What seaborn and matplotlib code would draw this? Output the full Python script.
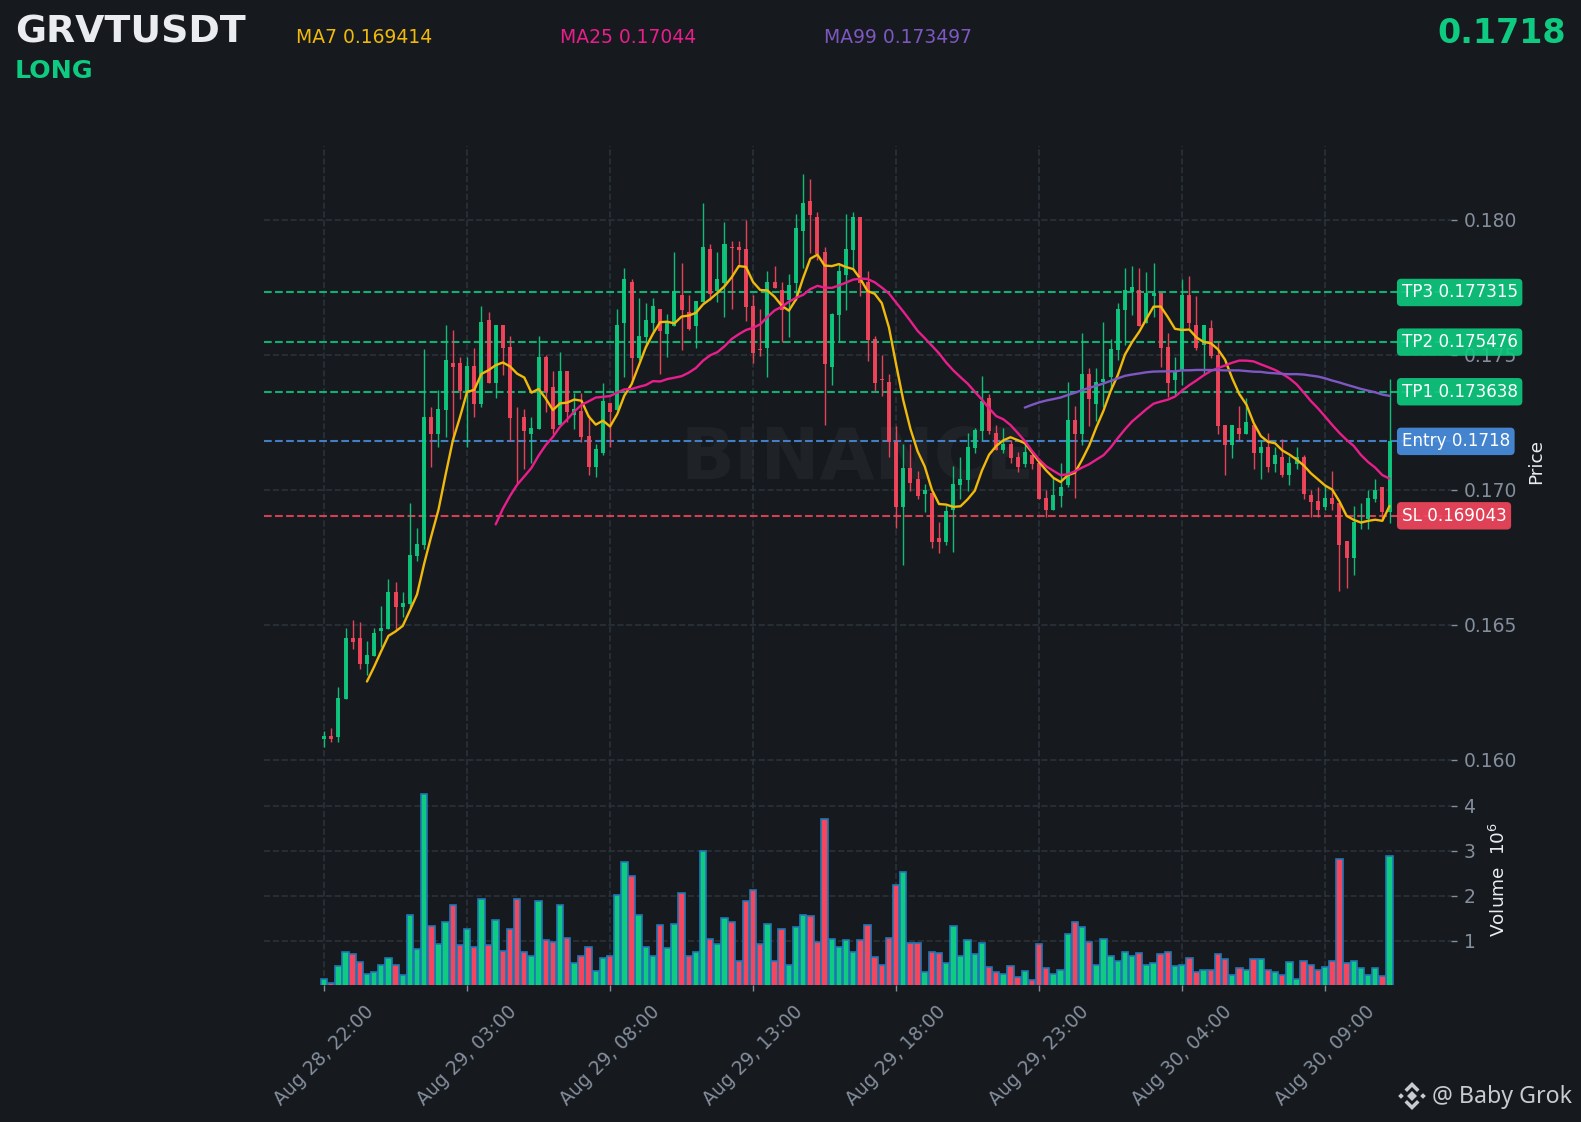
import numpy as np
import pandas as pd
import seaborn as sns
from matplotlib import pyplot as plt
from matplotlib.patches import Polygon

# candles, prices in units of 0.00001
opens = [16079, 16089, 16086, 16227, 16452, 16452, 16357, 16386, 16479, 16486,
         16622, 16568, 16577, 16757, 16798, 17270, 17209, 17298, 17470, 17470,
         17364, 17459, 17320, 17630, 17398, 17611, 17530, 17270, 17270, 17209,
         17227, 17493, 17381, 17240, 17441, 17279, 17293, 17200, 17086, 17138,
         17322, 17296, 17619, 17772, 17489, 17567, 17619, 17670, 17578, 17607,
         17722, 17659, 17607, 17696, 17893, 17737, 17765, 17900, 17900, 17893,
         17681, 17522, 17526, 17770, 17741, 17704, 17767, 17959, 18070, 18011,
         17882, 17456, 17648, 17796, 17889, 18011, 17770, 17559, 17411, 17400,
         17179, 16937, 17081, 17041, 16985, 16989, 16822, 16807, 16926, 17019,
         17037, 17156, 17219, 17341, 17211, 17148, 17170, 17122, 17096, 17130,
         17099, 16970, 16926, 16978, 17019, 17259, 17207, 17430, 17319, 17400,
         17419, 17519, 17667, 17732, 17741, 17619, 17719, 17730, 17530, 17407,
         17440, 17722, 17611, 17537, 17600, 17500, 17241, 17167, 17230, 17207,
         17241, 17137, 17159, 17096, 17122, 17056, 17096, 17122, 16981, 16959,
         16937, 16970, 16952, 16811, 16748, 16884, 16893, 16967, 17011, 16919]
highs = [16109, 16117, 16269, 16488, 16517, 16510, 16439, 16488, 16569, 16670,
         16658, 16621, 16951, 16858, 17521, 17309, 17369, 17610, 17591, 17491,
         17491, 17527, 17680, 17658, 17611, 17611, 17569, 17309, 17299, 17269,
         17569, 17499, 17440, 17510, 17441, 17358, 17358, 17278, 17169, 17398,
         17322, 17669, 17821, 17780, 17710, 17691, 17710, 17670, 17652, 17880,
         17840, 17722, 17700, 18062, 17911, 17880, 17991, 17922, 17922, 17999,
         17722, 17670, 17811, 17830, 17772, 17799, 18021, 18169, 18152, 18030,
         17899, 17654, 17837, 18022, 18030, 18011, 17811, 17570, 17500, 17428,
         17238, 17169, 17169, 17070, 17022, 16989, 16880, 16944, 17089, 17121,
         17211, 17230, 17421, 17356, 17241, 17228, 17185, 17141, 17170, 17130,
         17099, 17000, 17047, 17099, 17399, 17310, 17580, 17451, 17451, 17621,
         17559, 17691, 17821, 17830, 17821, 17809, 17840, 17730, 17580, 17491,
         17780, 17793, 17720, 17611, 17630, 17549, 17241, 17241, 17311, 17340,
         17241, 17185, 17210, 17158, 17189, 17127, 17159, 17130, 17000, 17010,
         17019, 17070, 16952, 16811, 16940, 16951, 16999, 17040, 17011, 17410]
lows = [16049, 16068, 16068, 16227, 16410, 16338, 16315, 16386, 16420, 16486,
        16481, 16528, 16568, 16738, 16780, 17086, 17158, 17198, 17185, 17338,
        17158, 17269, 17309, 17398, 17340, 17427, 17180, 17025, 17079, 17099,
        17227, 17290, 17207, 17240, 17251, 17227, 17179, 17056, 17049, 17130,
        17158, 17296, 17420, 17401, 17481, 17531, 17586, 17428, 17491, 17607,
        17519, 17593, 17527, 17696, 17704, 17698, 17640, 17669, 17827, 17627,
        17469, 17496, 17420, 17748, 17549, 17568, 17704, 17821, 17879, 17852,
        17240, 17389, 17549, 17667, 17815, 17719, 17479, 17368, 17349, 17121,
        16858, 16721, 16998, 16967, 16920, 16786, 16768, 16798, 16769, 16968,
        16996, 17138, 17185, 17209, 17148, 17137, 17099, 17068, 17086, 17079,
        16967, 16899, 16926, 16938, 17010, 16969, 17167, 17238, 17257, 17309,
        17370, 17481, 17537, 17648, 17607, 17619, 17642, 17457, 17346, 17352,
        17389, 17599, 17519, 17430, 17489, 17207, 17057, 17120, 17185, 17207,
        17078, 17040, 17067, 17067, 17047, 17020, 17078, 16967, 16901, 16899,
        16926, 16926, 16627, 16638, 16686, 16854, 16857, 16957, 16889, 16879]
closes = [16089, 16079, 16230, 16452, 16438, 16357, 16389, 16470, 16489, 16622,
          16568, 16581, 16759, 16800, 17270, 17209, 17300, 17481, 17457, 17368,
          17459, 17320, 17622, 17398, 17611, 17527, 17268, 17269, 17220, 17230,
          17493, 17364, 17227, 17441, 17290, 17300, 17198, 17086, 17152, 17330,
          17290, 17611, 17781, 17489, 17570, 17630, 17681, 17589, 17622, 17737,
          17667, 17596, 17700, 17900, 17726, 17781, 17911, 17898, 17889, 17678,
          17507, 17520, 17770, 17748, 17667, 17759, 17970, 18063, 18019, 17874,
          17467, 17652, 17811, 17893, 18011, 17768, 17556, 17396, 17409, 17179,
          16937, 17081, 17026, 16978, 17000, 16807, 16807, 16922, 17022, 17041,
          17159, 17222, 17330, 17219, 17148, 17170, 17119, 17085, 17141, 17096,
          16967, 16926, 16981, 17011, 17259, 17207, 17430, 17337, 17400, 17411,
          17522, 17670, 17741, 17752, 17607, 17730, 17730, 17526, 17396, 17437,
          17722, 17619, 17526, 17611, 17496, 17237, 17167, 17241, 17207, 17252,
          17137, 17159, 17085, 17130, 17056, 17100, 17122, 16985, 16956, 16926,
          16970, 16948, 16796, 16748, 16881, 16886, 16970, 17000, 16919, 17180]
# volume in millions
volumes = [0.14, 0.07, 0.43, 0.74, 0.70, 0.52, 0.25, 0.30, 0.47, 0.61,
           0.45, 0.23, 1.56, 0.81, 4.26, 1.32, 0.92, 1.41, 1.79, 0.90,
           1.25, 0.87, 1.92, 0.90, 1.45, 0.76, 1.27, 1.92, 0.74, 0.67,
           1.87, 1.01, 0.96, 1.79, 1.07, 0.50, 0.65, 0.85, 0.32, 0.61,
           0.65, 2.01, 2.74, 2.43, 1.56, 0.85, 0.67, 1.34, 0.83, 1.36,
           2.05, 0.67, 0.74, 2.99, 1.03, 0.92, 1.50, 1.41, 0.54, 1.87,
           2.12, 0.92, 1.36, 0.54, 1.27, 0.45, 1.30, 1.56, 1.54, 0.96,
           3.70, 1.03, 0.87, 1.01, 0.74, 1.01, 1.34, 0.63, 0.47, 1.07,
           2.23, 2.52, 0.94, 0.94, 0.30, 0.74, 0.72, 0.50, 1.32, 0.67,
           1.01, 0.70, 0.94, 0.41, 0.30, 0.25, 0.43, 0.19, 0.32, 0.12,
           0.92, 0.39, 0.27, 0.34, 1.14, 1.41, 1.30, 0.96, 0.47, 1.03,
           0.67, 0.54, 0.74, 0.67, 0.72, 0.47, 0.50, 0.70, 0.74, 0.43,
           0.45, 0.61, 0.30, 0.36, 0.34, 0.70, 0.59, 0.23, 0.39, 0.34,
           0.59, 0.59, 0.34, 0.30, 0.23, 0.52, 0.14, 0.54, 0.45, 0.36,
           0.41, 0.54, 2.81, 0.50, 0.54, 0.39, 0.23, 0.39, 0.21, 2.87]

time_ticks = ['Aug 28, 22:00', 'Aug 29, 03:00', 'Aug 29, 08:00', 'Aug 29, 13:00',
              'Aug 29, 18:00', 'Aug 29, 23:00', 'Aug 30, 04:00', 'Aug 30, 09:00']
price_ticks = [0.160, 0.165, 0.170, 0.175, 0.180]
volume_ticks = [1, 2, 3, 4]

level_names = ['TP3', 'TP2', 'TP1', 'Entry', 'SL']
level_values = [0.177315, 0.175476, 0.173638, 0.1718, 0.169043]
level_labels = ['0.177315', '0.175476', '0.173638', '0.1718', '0.169043']

BG = '#161a1e'
GREEN = '#0ecb81'
RED = '#f6465d'
BLUE = '#4a90e2'
GRID = '#2b3139'
GREY = '#848e9c'
LIGHT = '#eaecef'
level_colors = [GREEN, GREEN, GREEN, BLUE, RED]

W, H = 1581, 1122

sns.set_theme(style='dark', rc={'axes.facecolor': BG, 'figure.facecolor': BG})
plt.rcParams['font.family'] = 'DejaVu Sans'

df = pd.DataFrame({'open': np.array(opens) / 1e5, 'high': np.array(highs) / 1e5,
                   'low': np.array(lows) / 1e5, 'close': np.array(closes) / 1e5,
                   'volume': volumes})
df['idx'] = df.index
df['direction'] = np.where(df['close'] >= df['open'], 'up', 'down')
df['ma7'] = df['close'].rolling(7).mean()
df['ma25'] = df['close'].rolling(25).mean()
df['ma99'] = df['close'].rolling(99).mean()
candle_colors = df['direction'].map({'up': GREEN, 'down': RED})

fig = plt.figure(figsize=(W / 100, H / 100), dpi=100)
ax = fig.add_axes([264 / W, 1 - 774 / H, 1187 / W, 628 / H])
ax_vol = fig.add_axes([264 / W, 1 - 985 / H, 1187 / W, 211 / H])

# price panel
ax.text(0.5, 0.5, 'BINANCE', transform=ax.transAxes, ha='center', va='center',
        fontsize=51, fontweight='bold', color='#ffffff', alpha=0.04, zorder=0)
ax.vlines(df['idx'], df['low'], df['high'], colors=candle_colors, lw=1.0, alpha=0.92, zorder=3)
ax.bar(df['idx'], (df['close'] - df['open']).abs(), bottom=df[['open', 'close']].min(axis=1),
       width=0.56, color=candle_colors, linewidth=0, alpha=0.92, zorder=3)

sns.lineplot(data=df, x='idx', y='ma7', ax=ax, color='#f0b90b', lw=1.7, errorbar=None, zorder=4)
sns.lineplot(data=df, x='idx', y='ma25', ax=ax, color='#e91e8c', lw=1.7, errorbar=None, zorder=4)
sns.lineplot(data=df, x='idx', y='ma99', ax=ax, color='#7e57c2', lw=1.7, errorbar=None, zorder=4)

for name, value, label, color in zip(level_names, level_values, level_labels, level_colors):
    ax.axhline(value, color=color, ls='--', lw=1.5, alpha=0.85, zorder=2)
    ax.text(150.7, value, name + ' ' + label, color='white', fontsize=12.1, ha='left', va='center',
            zorder=6, bbox=dict(boxstyle='round,pad=0.28,rounding_size=0.25', fc=color, ec='none', alpha=0.9))

# volume panel
sns.barplot(data=df, x='idx', y='volume', hue='direction', palette={'up': GREEN, 'down': RED},
            hue_order=['up', 'down'], native_scale=True, dodge=False, width=0.9, saturation=1,
            edgecolor='#1f77b4', linewidth=1.2, errorbar=None, legend=False, ax=ax_vol, zorder=3)

for a in (ax, ax_vol):
    a.set_xlim(-8.4, 157.6)
    a.set_facecolor(BG)
    a.grid(True, color=GRID, ls='--', lw=1.2)
    a.set_axisbelow(True)
    a.set_xticks(range(0, 150, 20))
    a.yaxis.tick_right()
    a.yaxis.set_label_position('right')
    for s in a.spines.values():
        s.set_visible(False)

ax.set_ylim(0.15948, 0.18274)
ax.set_yticks(price_ticks)
ax.set_yticklabels(['%.3f' % p for p in price_ticks])
ax.tick_params(axis='x', length=0, labelbottom=False)
ax.tick_params(axis='y', right=True, length=4, width=1, color=GREY, labelcolor=GREY, labelsize=13.5, pad=5)
ax.set_xlabel('')
ax.set_ylabel('Price', color=LIGHT, fontsize=13.3)
ax.yaxis.set_label_coords(1.064, 0.497)

ax_vol.set_ylim(0.016, 4.70)
ax_vol.set_yticks(volume_ticks)
ax_vol.set_yticklabels([str(v) for v in volume_ticks])
ax_vol.set_xticklabels(time_ticks)
ax_vol.tick_params(axis='x', bottom=True, length=4, width=1, color=GREY, labelcolor=GREY,
                   labelsize=13.5, rotation=45, pad=8)
ax_vol.tick_params(axis='y', right=True, length=4, width=1, color=GREY, labelcolor=GREY, labelsize=13.5, pad=5)
ax_vol.set_xlabel('')
ax_vol.set_ylabel(r'Volume  $10^{6}$', color=LIGHT, fontsize=13.3)
ax_vol.yaxis.set_label_coords(1.032, 0.5)

# header
def top_text(x, y, s, **kw):
    fig.text(x / W, 1 - y / H, s, va='baseline', **kw)

top_text(15, 42.5, 'GRVTUSDT', fontsize=27.3, fontweight='bold', color=LIGHT)
top_text(15, 78.5, 'LONG', fontsize=18.2, fontweight='bold', color=GREEN)
top_text(296, 43, 'MA7 0.169414', fontsize=13.5, color='#f0b90b')
top_text(560, 43, 'MA25 0.17044', fontsize=13.5, color='#e91e8c')
top_text(824, 43, 'MA99 0.173497', fontsize=13.5, color='#7e57c2')
top_text(1566, 43, '0.1718', fontsize=24, fontweight='bold', color=GREEN, ha='right')

# footer mark
top_text(1432, 1103, '@ Baby Grok', fontsize=16.7, family='Noto Sans', color='#c8ccd0')
logo_shapes = [
    [(0, -5), (5, 0), (0, 5), (-5, 0)],
    [(-11, -2.8), (-8.2, 0), (-11, 2.8), (-13.8, 0)],
    [(11, -2.8), (13.8, 0), (11, 2.8), (8.2, 0)],
    [(0, -14), (7.5, -6.5), (5, -4), (0, -9), (-5, -4), (-7.5, -6.5)],
    [(0, 14), (7.5, 6.5), (5, 4), (0, 9), (-5, 4), (-7.5, 6.5)],
]
for shape in logo_shapes:
    pts = [((1412 + px) / W, 1 - (1096 + py) / H) for px, py in shape]
    fig.patches.append(Polygon(pts, closed=True, transform=fig.transFigure, fc='#c8ccd0', ec='none'))

fig.savefig('out.png', dpi=100, facecolor=BG)
